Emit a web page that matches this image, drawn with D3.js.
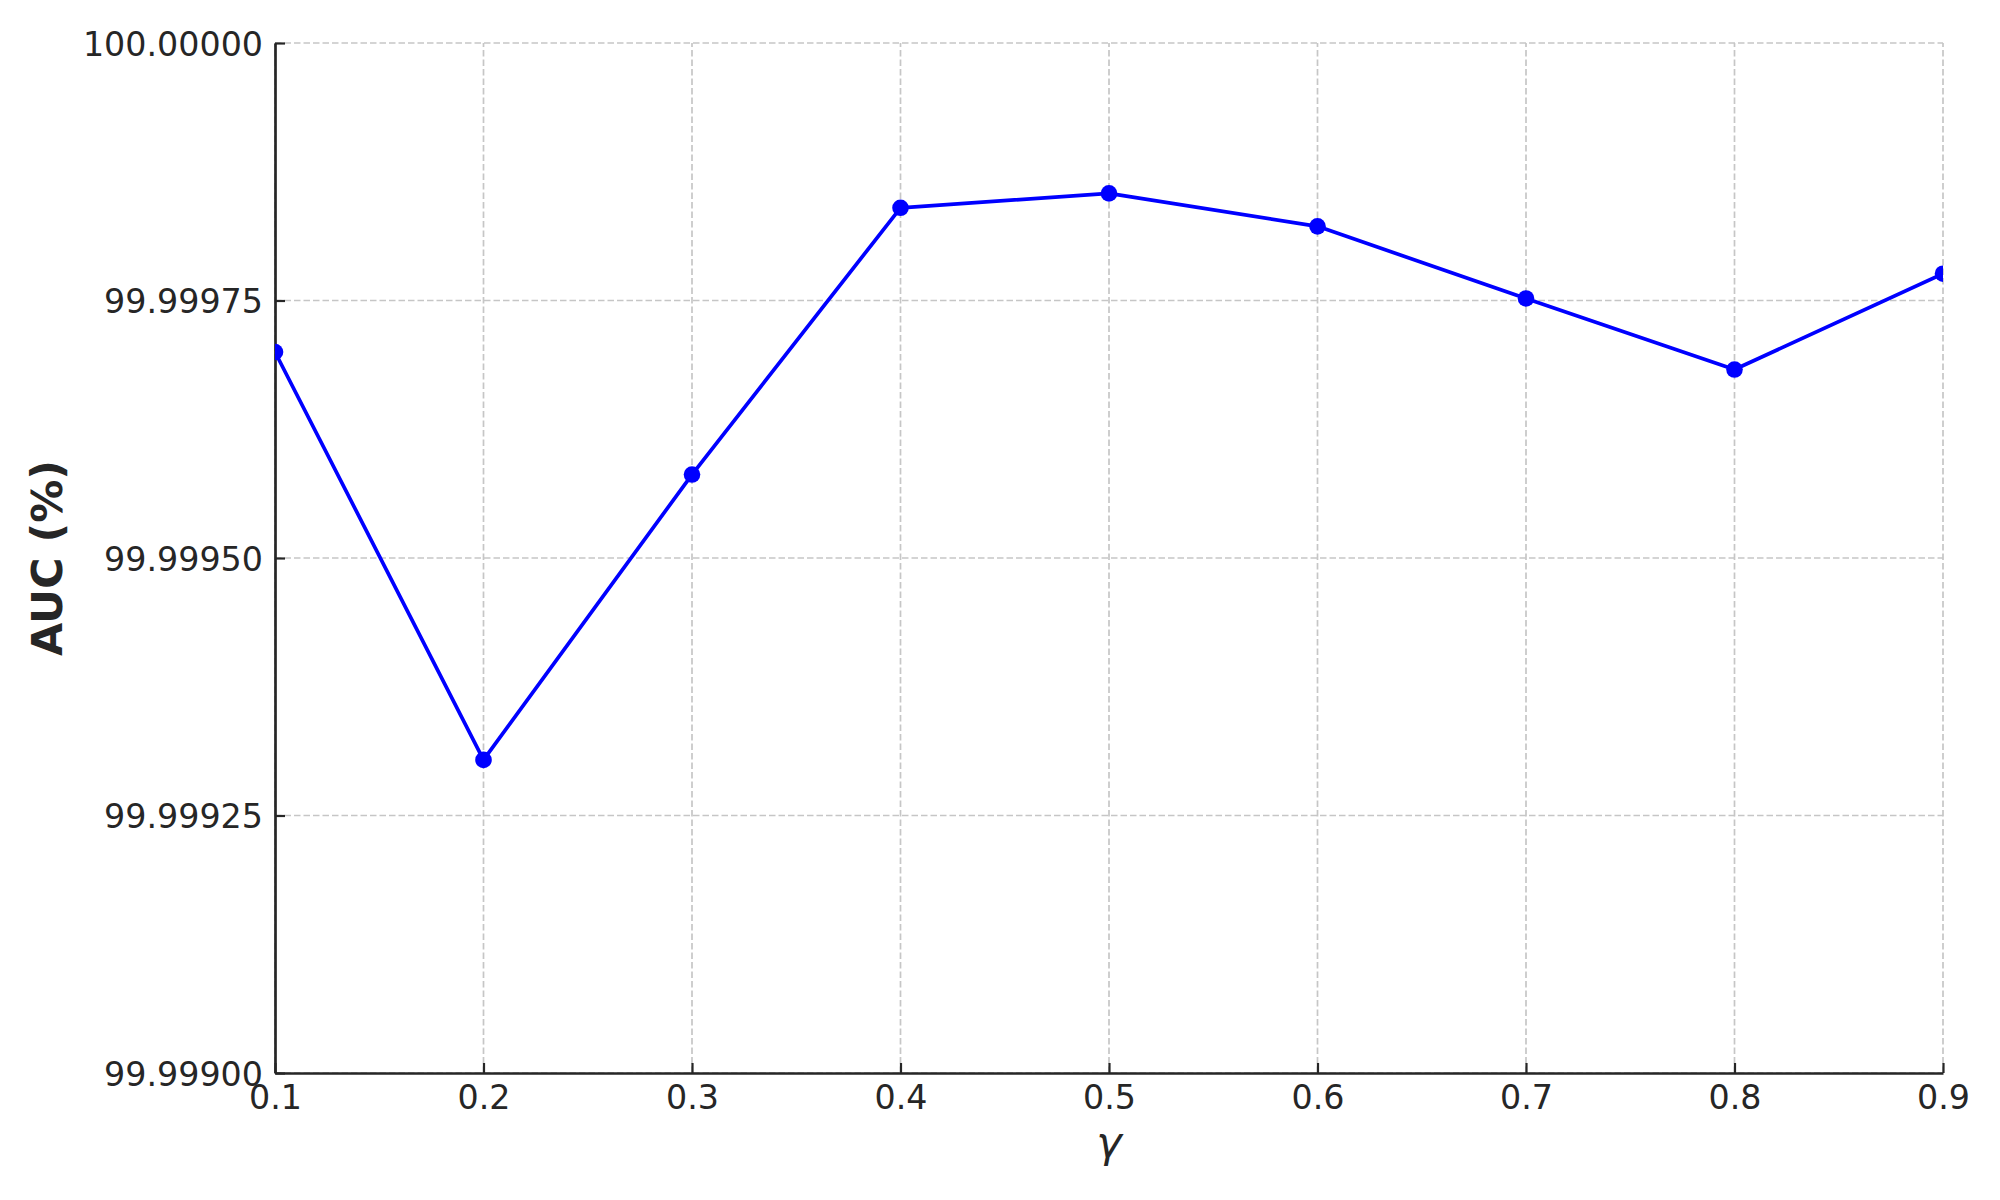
<!DOCTYPE html>
<html>
<head>
<meta charset="utf-8">
<script src="https://cdn.jsdelivr.net/npm/d3@7"></script>
<style>
  html, body { margin: 0; padding: 0; background: #fff; }
  svg { display: block; font-family: "DejaVu Sans", sans-serif; }
</style>
</head>
<body>
<svg id="chart" width="2000" height="1200"></svg>
<script>
const gammaValues = [0.1, 0.2, 0.3, 0.4, 0.5, 0.6, 0.7, 0.8, 0.9];
const aucValues = [99.999700, 99.999304, 99.999581, 99.999840, 99.999854, 99.999822, 99.999752, 99.999683, 99.999776];
const xTicks = [0.1, 0.2, 0.3, 0.4, 0.5, 0.6, 0.7, 0.8, 0.9];
const yTicks = [99.999, 99.99925, 99.9995, 99.99975, 100.0];
const xLabel = "γ";
const yLabel = "AUC (%)";

const svg = d3.select("#chart");
const margin = { left: 275, right: 2000 - 1943, top: 43, bottom: 1200 - 1073 };
const W = 2000, H = 1200;
const x = d3.scaleLinear().domain([0.1, 0.9]).range([margin.left, W - margin.right]);
const y = d3.scaleLinear().domain([99.999, 100.0]).range([H - margin.bottom, margin.top]);

// grid
const grid = svg.append("g");
grid.selectAll("line.vg").data(xTicks).join("line")
  .attr("x1", d => x(d)).attr("x2", d => x(d))
  .attr("y1", y.range()[0]).attr("y2", y.range()[1])
  .attr("stroke", "#c6c6c6").attr("stroke-width", 1.7).attr("stroke-dasharray", "6.5,3");
grid.selectAll("line.hg").data(yTicks).join("line")
  .attr("y1", d => y(d)).attr("y2", d => y(d))
  .attr("x1", x.range()[0]).attr("x2", x.range()[1])
  .attr("stroke", "#c6c6c6").attr("stroke-width", 1.7).attr("stroke-dasharray", "6.5,3");

// axes
const xAxis = d3.axisBottom(x).tickValues(xTicks).tickFormat(d3.format(".1f")).tickSizeInner(-10).tickSizeOuter(0).tickPadding(22);
const yAxis = d3.axisLeft(y).tickValues(yTicks).tickFormat(d3.format(".5f")).tickSizeInner(-10).tickSizeOuter(0).tickPadding(22);

const gx = svg.append("g").attr("transform", `translate(0,${y.range()[0]})`).call(xAxis);
const gy = svg.append("g").attr("transform", `translate(${x.range()[0]},0)`).call(yAxis);
[gx, gy].forEach(g => {
  g.select(".domain").attr("stroke", "#262626").attr("stroke-width", 2.7);
  g.selectAll(".tick line").attr("stroke", "#262626").attr("stroke-width", 2.2);
  g.selectAll(".tick text").attr("fill", "#262626").attr("font-size", 33.3)
    .attr("font-family", "DejaVu Sans");
});
gx.selectAll(".tick text").attr("dy", "0.71em").attr("y", 12);
gy.selectAll(".tick text").attr("x", -12).attr("dy", "0.36em");

// line
const line = d3.line().x((d, i) => x(gammaValues[i])).y(d => y(d));
svg.append("defs").append("clipPath").attr("id", "clip").append("rect")
  .attr("x", x.range()[0]).attr("y", y.range()[1] - 2)
  .attr("width", x.range()[1] - x.range()[0]).attr("height", y.range()[0] - y.range()[1] + 4);
const plot = svg.append("g").attr("clip-path", "url(#clip)");
plot.append("path").datum(aucValues).attr("d", line)
  .attr("fill", "none").attr("stroke", "#0000ff").attr("stroke-width", 3.7).attr("stroke-linejoin", "round");
plot.selectAll("circle").data(aucValues).join("circle")
  .attr("cx", (d, i) => x(gammaValues[i])).attr("cy", d => y(d)).attr("r", 8.3).attr("fill", "#0000ff");

// labels
svg.append("text").attr("x", (x.range()[0] + x.range()[1]) / 2).attr("y", 1157)
  .attr("text-anchor", "middle").attr("font-size", 43).attr("font-style", "italic")
  .attr("fill", "#262626").text(xLabel);
svg.append("text").attr("transform", `translate(62,${(y.range()[0] + y.range()[1]) / 2}) rotate(-90)`)
  .attr("text-anchor", "middle").attr("font-size", 43).attr("font-weight", "bold")
  .attr("fill", "#262626").text(yLabel);
</script>
</body>
</html>
